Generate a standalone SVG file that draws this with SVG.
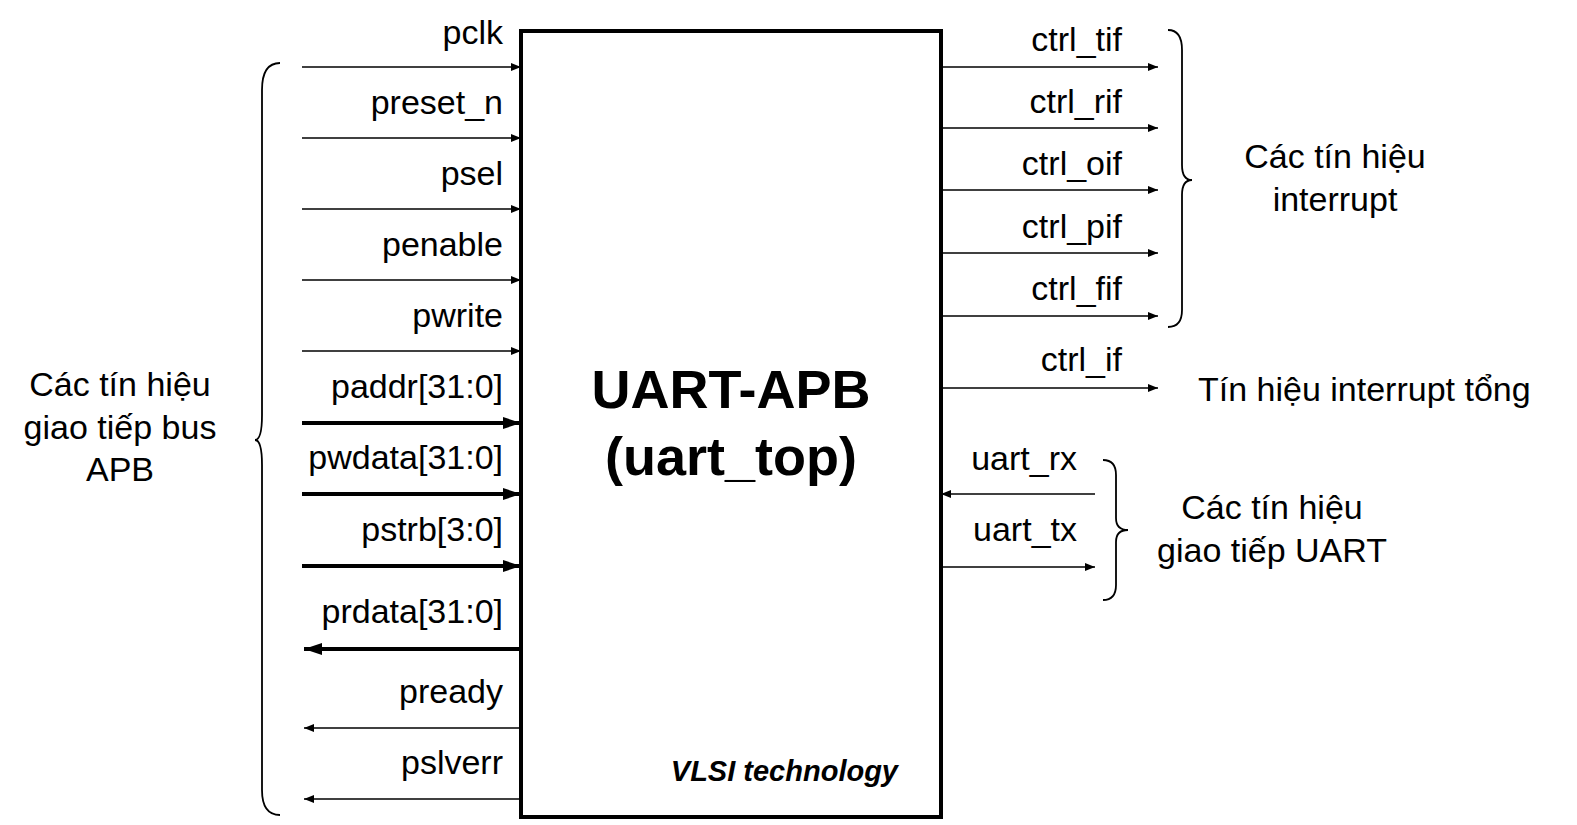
<svg xmlns="http://www.w3.org/2000/svg" width="1577" height="825" viewBox="0 0 1577 825">
<style>
text{font-family:"Liberation Sans",Arial,sans-serif;fill:#000}
.l{font-size:34px;text-anchor:end}
.c{font-size:34px;text-anchor:middle}
.t{stroke:#000;stroke-width:1.5;fill:none}
.k{stroke:#000;stroke-width:4;fill:none}
.b{stroke:#000;stroke-width:1.8;fill:none}
</style>
<defs>
<marker id="a" markerWidth="10" markerHeight="8" refX="10" refY="4" orient="auto" markerUnits="userSpaceOnUse"><path d="M0,0L10,4L0,8z"/></marker>
<marker id="A" markerWidth="18" markerHeight="12" refX="18" refY="6" orient="auto" markerUnits="userSpaceOnUse"><path d="M0,0L18,6L0,12z"/></marker>
</defs>
<g id="connectors">
<line class="t" x1="302" y1="67" x2="521" y2="67" marker-end="url(#a)"/>
<line class="t" x1="302" y1="138" x2="521" y2="138" marker-end="url(#a)"/>
<line class="t" x1="302" y1="209" x2="521" y2="209" marker-end="url(#a)"/>
<line class="t" x1="302" y1="280" x2="521" y2="280" marker-end="url(#a)"/>
<line class="t" x1="302" y1="351" x2="521" y2="351" marker-end="url(#a)"/>
<line class="k" x1="302" y1="423" x2="521" y2="423" marker-end="url(#A)"/>
<line class="k" x1="302" y1="494" x2="521" y2="494" marker-end="url(#A)"/>
<line class="k" x1="302" y1="566" x2="521" y2="566" marker-end="url(#A)"/>
<line class="k" x1="521" y1="649" x2="304" y2="649" marker-end="url(#A)"/>
<line class="t" x1="521" y1="728" x2="304" y2="728" marker-end="url(#a)"/>
<line class="t" x1="521" y1="799" x2="304" y2="799" marker-end="url(#a)"/>
<line class="t" x1="941" y1="67" x2="1158" y2="67" marker-end="url(#a)"/>
<line class="t" x1="941" y1="128" x2="1158" y2="128" marker-end="url(#a)"/>
<line class="t" x1="941" y1="190" x2="1158" y2="190" marker-end="url(#a)"/>
<line class="t" x1="941" y1="253" x2="1158" y2="253" marker-end="url(#a)"/>
<line class="t" x1="941" y1="316" x2="1158" y2="316" marker-end="url(#a)"/>
<line class="t" x1="941" y1="388" x2="1158" y2="388" marker-end="url(#a)"/>
<line class="t" x1="1095" y1="494" x2="941" y2="494" marker-end="url(#a)"/>
<line class="t" x1="941" y1="567" x2="1095" y2="567" marker-end="url(#a)"/>
</g>
<g id="uart_top">
<rect x="521" y="31" width="420" height="786" fill="#fff" stroke="#000" stroke-width="4"/>
<text x="731" y="408" font-size="54" font-weight="bold" text-anchor="middle">UART-APB</text>
<text x="731" y="475" font-size="54" font-weight="bold" text-anchor="middle">(uart_top)</text>
<text x="898" y="781" font-size="29" font-weight="bold" font-style="italic" text-anchor="end">VLSI technology</text>
</g>
<g id="labels">
<text class="l" x="503" y="44">pclk</text>
<text class="l" x="503" y="114">preset_n</text>
<text class="l" x="503" y="185">psel</text>
<text class="l" x="503" y="256">penable</text>
<text class="l" x="503" y="327">pwrite</text>
<text class="l" x="503" y="398">paddr[31:0]</text>
<text class="l" x="503" y="469">pwdata[31:0]</text>
<text class="l" x="503" y="541">pstrb[3:0]</text>
<text class="l" x="503" y="623">prdata[31:0]</text>
<text class="l" x="503" y="703">pready</text>
<text class="l" x="503" y="774">pslverr</text>
<text class="l" x="1122" y="51">ctrl_tif</text>
<text class="l" x="1122" y="113">ctrl_rif</text>
<text class="l" x="1122" y="175">ctrl_oif</text>
<text class="l" x="1122" y="238">ctrl_pif</text>
<text class="l" x="1122" y="300">ctrl_fif</text>
<text class="l" x="1122" y="371">ctrl_if</text>
<text class="l" x="1077" y="470">uart_rx</text>
<text class="l" x="1077" y="541">uart_tx</text>
</g>
<g id="groups">
<path class="b" d="M280,63 Q262,63 262,90 L262,415 Q262,440 255,440 Q262,440 262,465 L262,790 Q262,815 280,815"/>
<path class="b" d="M1168,30 Q1182,30 1182,50 L1182,165 Q1182,180 1192,180 Q1182,180 1182,195 L1182,310 Q1182,327 1168,327"/>
<path class="b" d="M1103,460 Q1116,460 1116,475 L1116,518 Q1116,530 1128,530 Q1116,530 1116,542 L1116,585 Q1116,600 1103,600"/>
<text class="c" x="120" y="396">Các tín hiệu</text>
<text class="c" x="120" y="439">giao tiếp bus</text>
<text class="c" x="120" y="481">APB</text>
<text class="c" x="1335" y="168">Các tín hiệu</text>
<text class="c" x="1335" y="211">interrupt</text>
<text x="1198" y="401" font-size="34">Tín hiệu interrupt tổng</text>
<text class="c" x="1272" y="519">Các tín hiệu</text>
<text class="c" x="1272" y="562">giao tiếp UART</text>
</g>
</svg>
